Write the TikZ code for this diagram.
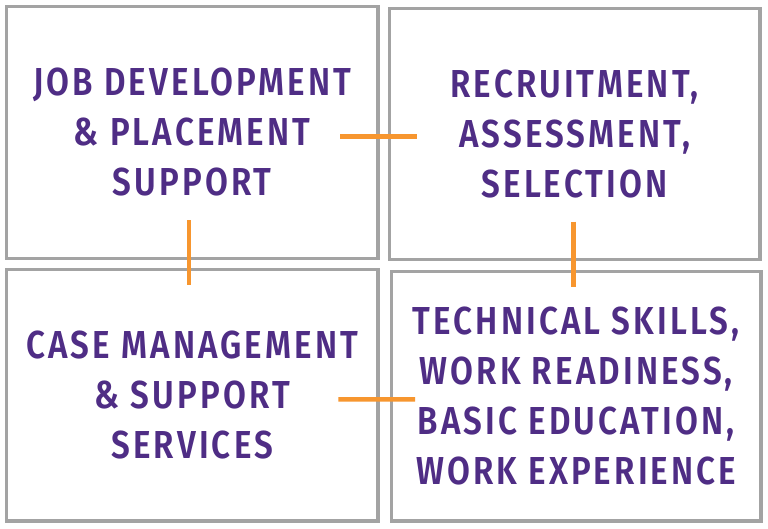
\documentclass[tikz,border=0pt]{standalone}
\usepackage{fontspec}
\usetikzlibrary{calc}
\newfontfamily\lblfont{Fira Sans SemiBold}[FakeStretch=0.85,LetterSpace=8]
\definecolor{boxgray}{HTML}{A3A3A3}
\definecolor{txtpurple}{HTML}{4F2D85}
\definecolor{linkorange}{HTML}{F7962F}
\tikzset{
  panel/.style={draw=boxgray, line width=3.2pt, rectangle, inner sep=0pt, outer sep=0pt,
    align=center, text=txtpurple, font=\lblfont\fontsize{39}{50}\selectfont},
  link/.style={draw=linkorange, line width=4.5pt}
}
\begin{document}
\begin{tikzpicture}[x=1pt,y=-1pt]
\useasboundingbox[fill=white] (0,0) rectangle (768,529);
\node[panel, minimum width=371.5pt, minimum height=251.7pt] (b1) at (192.25,132.5)
  {JOB DEVELOPMENT\\\& PLACEMENT\\SUPPORT};
\node[panel, minimum width=370.7pt, minimum height=251pt] (b2) at (574.65,133.8)
  {RECRUITMENT,\\ASSESSMENT,\\SELECTION};
\node[panel, minimum width=371.4pt, minimum height=251.7pt] (b3) at (192.3,395.15)
  {CASE MANAGEMENT\\\& SUPPORT\\SERVICES};
\node[panel, minimum width=369.5pt, minimum height=249.5pt] (b4) at (576.25,396.25)
  {TECHNICAL SKILLS,\\WORK READINESS,\\BASIC EDUCATION,\\WORK EXPERIENCE};
\draw[link] ($(b1.east)+(-38,4)$) -- ($(b2.west)+(27.4,2.7)$);
\draw[link] ($(b1.south)+(-3.25,-38.3)$) -- ($(b3.north)+(-3.3,15.7)$);
\draw[link] ($(b2.south)+(-1.15,-37.6)$) -- ($(b4.north)+(-2.75,15.2)$);
\draw[link] ($(b3.east)+(-39.7,4.15)$) -- ($(b4.west)+(23.5,3.05)$);
\end{tikzpicture}
\end{document}
